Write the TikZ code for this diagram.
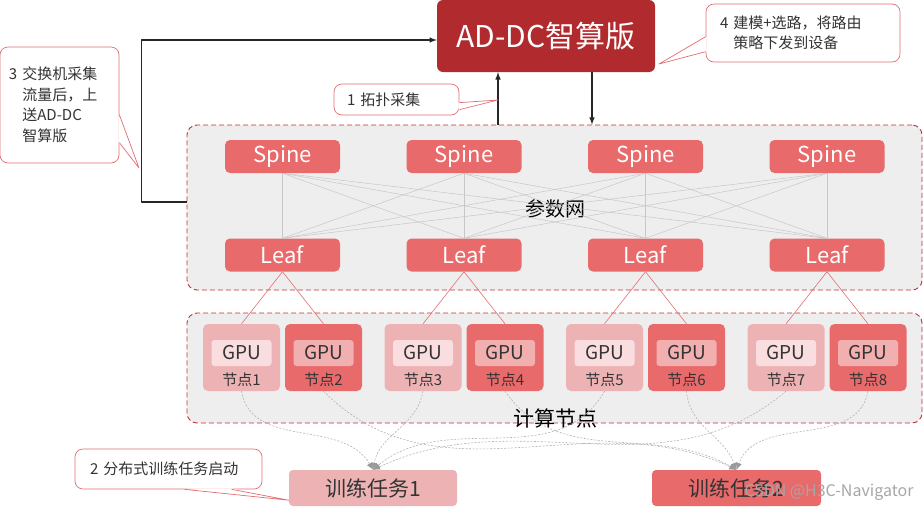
\documentclass[tikz,border=0pt]{standalone}
\usepackage{fontspec}
\setmainfont{Noto Sans CJK SC}
\usetikzlibrary{calc,positioning,arrows.meta}
\tikzset{>=latex}

\definecolor{addc}{RGB}{176,42,46}
\definecolor{netred}{RGB}{233,106,107}
\definecolor{lightnode}{RGB}{237,179,180}
\definecolor{lightgpu}{RGB}{250,222,223}
\definecolor{darkgpu}{RGB}{242,175,176}
\definecolor{zonegray}{RGB}{238,238,238}
\definecolor{dashred}{RGB}{190,50,55}
\definecolor{callred}{RGB}{225,110,115}
\definecolor{txtgray}{RGB}{51,51,51}

\begin{document}
\begin{tikzpicture}[x=1pt,y=-1pt,line join=round,
    zone/.style={draw=dashred,fill=zonegray,line width=0.9pt,dash pattern=on 5pt off 3pt,rounded corners=10pt,inner sep=0pt},
    netbox/.style={fill=netred,rounded corners=5pt,minimum width=115pt,minimum height=33pt,inner sep=0pt,text=white,font=\fontsize{22}{22}\selectfont},
    hostbox/.style={rounded corners=5pt,minimum width=77pt,minimum height=67pt,inner sep=0pt},
    gpubox/.style={rounded corners=3pt,minimum width=60pt,minimum height=26pt,inner sep=0pt,text=txtgray,font=\fontsize{19}{19}\selectfont},
    taskbox/.style={rounded corners=4pt,minimum height=36pt,inner sep=0pt,text=txtgray,font=\fontsize{21}{21}\selectfont},
    callbox/.style={draw=callred,fill=white,line width=0.7pt,rounded corners=8pt,inner ysep=0pt,align=left,text=txtgray,font=\fontsize{15}{20.5}\selectfont},
    callline/.style={draw=callred,line width=0.7pt},
    ctrl/.style={line width=1.5pt,draw=black!85},
    mesh/.style={draw=black!22,line width=0.5pt},
    uplink/.style={draw=callred,line width=0.6pt},
    flow/.style={draw=black!30,line width=0.6pt,dash pattern=on 2pt off 1.5pt}]
\useasboundingbox (0,0) rectangle (923,507);

% controller
\node[fill=addc,rounded corners=6pt,minimum width=218pt,minimum height=72pt,inner sep=0pt,text=white,font=\fontsize{30}{30}\selectfont] (ad) at (546,36) {AD-DC智算版};

% the two zones
\node[zone,minimum width=735pt,minimum height=165pt] (net) at (554.5,207.5) {};
\node[zone,minimum width=735pt,minimum height=110pt] (comp) at (554.5,368) {};
\node[font=\fontsize{20}{20}\selectfont,text=black] (netlbl) at (555,209) {参数网};

% spine / leaf
\foreach \i in {1,...,4} {
    \pgfmathsetmacro\xx{282.5+181.5*(\i-1)}
    \node[netbox] (s\i) at (\xx,156.5) {Spine};
    \node[netbox] (l\i) at (\xx,255) {Leaf};
}
\foreach \i in {1,...,4}
    \foreach \j in {1,...,4}
        \draw[mesh] (s\i.south) -- (l\j.north);

% hosts
\foreach \i in {1,...,4} {
    \pgfmathtruncatemacro\a{2*\i-1}
    \pgfmathtruncatemacro\b{2*\i}
    \pgfmathsetmacro\xx{282.5+181.5*(\i-1)}
    \node[hostbox,fill=lightnode] (n\a) at (\xx-41,357.5) {};
    \node[hostbox,fill=netred] (n\b) at (\xx+41,357.5) {};
    \node[gpubox,fill=lightgpu] (g\a) at ([yshift=4.5pt]n\a.center) {GPU};
    \node[gpubox,fill=darkgpu] (g\b) at ([yshift=4.5pt]n\b.center) {GPU};
    \node[text=txtgray,font=\fontsize{15}{15}\selectfont,inner sep=0pt] (p\a) at ([yshift=-22.5pt]n\a.center) {节点\a};
    \node[text=txtgray,font=\fontsize{15}{15}\selectfont,inner sep=0pt] (p\b) at ([yshift=-22.5pt]n\b.center) {节点\b};
    \draw[uplink] (l\i.south) -- (n\a.north);
    \draw[uplink] (l\i.south) -- (n\b.north);
}
\node[font=\fontsize{21}{21}\selectfont,text=black] (complbl) at (555,418) {计算节点};

% jobs
\node[taskbox,fill=lightnode,minimum width=168pt] (t1) at (373,488) {训练任务1};
\node[taskbox,fill=netred,minimum width=169pt] (t2) at (736.5,488) {训练任务2};

\foreach \s/\t/\o/\e in {1/1/-80/120, 3/1/-100/80, 5/1/-120/40, 7/1/-140/25,
                         2/2/-45/155, 4/2/-55/150, 6/2/-85/110, 8/2/-100/70}
    \draw[flow,-{Latex[length=7pt,width=6pt,color=black!40]}] (n\s.south) to[out=\o,in=\e] (t\t.north);

% control loop
\draw[ctrl,->] ([xshift=-48pt]ad.south |- net.north) -- ([xshift=-48pt]ad.south);
\draw[ctrl,->] ([xshift=46pt]ad.south) -- ([xshift=46pt]ad.south |- net.north);
\draw[ctrl,->] ([yshift=5.5pt]net.west) -- ++(-45,0) |- ([yshift=-4pt]ad.west);

% callouts
\coordinate (tip1) at (498,100);
\coordinate (tip3) at (139,168);
\coordinate (tip4) at (659,64);
\node[callbox,minimum height=31pt,inner xsep=13pt,text width=99pt] (c1) at (396.5,99.5) {1 拓扑采集};
\node[callbox,minimum height=40pt,inner xsep=15pt,text width=157pt] (c2) at (168.5,469) {2 分布式训练任务启动};
\node[callbox,minimum height=116pt,inner xsep=9pt,text width=101pt] (c3) at (59.5,105)
    {3 交换机采集\\\hphantom{3 }流量后，上\\\hphantom{3 }送AD-DC\\\hphantom{3 }智算版};
\node[callbox,minimum height=58pt,inner xsep=14pt,text width=166pt] (c4) at (803,33)
    {4 建模+选路，将路由\\\hphantom{4 }策略下发到设备};

\fill[white] ($(c1.north east)+(-1,19)$) -- (tip1) -- ($(c1.north east)+(-1,26)$) -- cycle;
\draw[callline] ($(c1.north east)+(0,19)$) -- (tip1) -- ($(c1.north east)+(0,26)$);
\fill[white] ($(c2.south west)+(110,-1)$) -- ($(t1.south west)+(0,-6)$) -- ($(c2.south west)+(157,-1)$) -- cycle;
\draw[callline] ($(c2.south west)+(110,0)$) -- ($(t1.south west)+(0,-6)$) -- ($(c2.south west)+(157,0)$);
\fill[white] ($(c3.north east)+(-1,68)$) -- (tip3) -- ($(c3.north east)+(-1,96)$) -- cycle;
\draw[callline] ($(c3.north east)+(0,68)$) -- (tip3) -- ($(c3.north east)+(0,96)$);
\fill[white] ($(c4.north west)+(1,33)$) -- (tip4) -- ($(c4.north west)+(1,48)$) -- cycle;
\draw[callline] ($(c4.north west)+(0,33)$) -- (tip4) -- ($(c4.north west)+(0,48)$);

% watermark
\node[text=black!35,font=\fontsize{16}{16}\selectfont,inner sep=0pt] (wm) at (829,492) {CSDN @H3C-Navigator};
\end{tikzpicture}
\end{document}
